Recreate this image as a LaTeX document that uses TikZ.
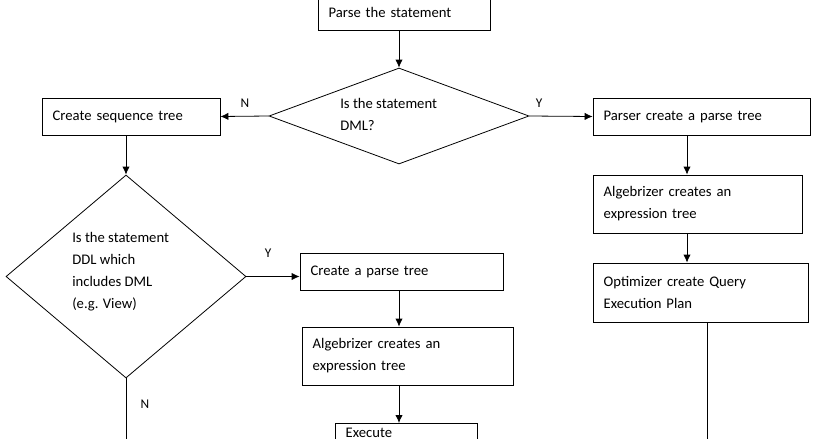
\documentclass[tikz,border=0pt]{standalone}
\usepackage{fontspec}
\setmainfont{Carlito}
\usetikzlibrary{shapes.geometric,arrows.meta}
\begin{document}
\begin{tikzpicture}[x=0.75pt,y=-0.75pt,
  font=\fontsize{11}{16.5}\selectfont,
  box/.style={draw,line width=0.6pt,align=left,inner xsep=8pt,inner ysep=2pt},
  dia/.style={draw,line width=0.6pt,diamond,inner sep=0pt},
  arr/.style={line width=0.6pt,-{Latex[length=6pt,width=5.5pt]}},
  lab/.style={font=\fontsize{10}{12}\selectfont,inner sep=0pt}]
\useasboundingbox (0,0) rectangle (836,439);
\node[box,minimum width=129pt,minimum height=27pt,text width=113pt,anchor=south] (P) at (404,31) {Parse the statement};
\node[box,minimum width=133.5pt,minimum height=27.75pt,text width=117.5pt] (S) at (131,116.5) {Create sequence tree};
\node[box,minimum width=162.75pt,minimum height=27.75pt,text width=146.75pt] (R1) at (701.5,116.5) {Parser create a parse tree};
\node[box,minimum width=156.75pt,minimum height=43.5pt,text width=140.75pt] (R2) at (697.5,204) {Algebrizer creates an\\expression tree};
\node[box,minimum width=161.25pt,minimum height=44.25pt,text width=145.25pt] (R3) at (700.5,292.5) {Optimizer create Query\\Execution Plan};
\node[box,minimum width=152.25pt,minimum height=27.75pt,text width=136.25pt] (M1) at (401.5,271.5) {Create a parse tree};
\node[box,minimum width=158.25pt,minimum height=43.5pt,text width=142.25pt] (M2) at (407.5,356) {Algebrizer creates an\\expression tree};
\node[box,minimum width=106.5pt,minimum height=27.75pt,text width=90.5pt,anchor=north,text depth=14pt] (M3) at (406,423) {Execute};
\node[dia,minimum width=195pt,minimum height=72pt] (D1) at (399,116) {};
\node[dia,minimum width=180pt,minimum height=152.25pt] (D2) at (126,276.5) {};
\node[align=left,inner sep=0pt,anchor=north west] (T1) at (340,98) {Is the statement\\DML?};
\node[align=left,inner sep=0pt,anchor=north west] (T2) at (72,232) {Is the statement\\DDL which\\includes DML\\(e.g. View)};
\coordinate (E1) at (707,445);
\coordinate (E2) at (126,445);
\draw[arr] (P.south -| D1.north) -- (D1.north);
\draw[arr] (D1.west) -- (S.east);
\draw[arr] (D1.east) -- (R1.west);
\draw[arr] (S.south -| D2.north) -- (D2.north);
\draw[arr] (D2.east) -- (D2.east -| M1.west);
\draw[arr] (M1.south -| D1.north) -- (M2.north -| D1.north);
\draw[arr] (M2.south -| D1.north) -- (M3.north -| D1.north);
\draw[arr] (R1.south -| 687,0) -- (R2.north -| 687,0);
\draw[arr] (R2.south -| 687,0) -- (R3.north -| 687,0);
\draw[line width=0.6pt] (R3.south -| E1) -- (E1);
\draw[line width=0.6pt] (D2.south) -- (E2);
\node[lab] (LN1) at (245,103) {N};
\node[lab] (LY1) at (539,103) {Y};
\node[lab] (LY2) at (268,253) {Y};
\node[lab] (LN2) at (145,404) {N};
\end{tikzpicture}
\end{document}
